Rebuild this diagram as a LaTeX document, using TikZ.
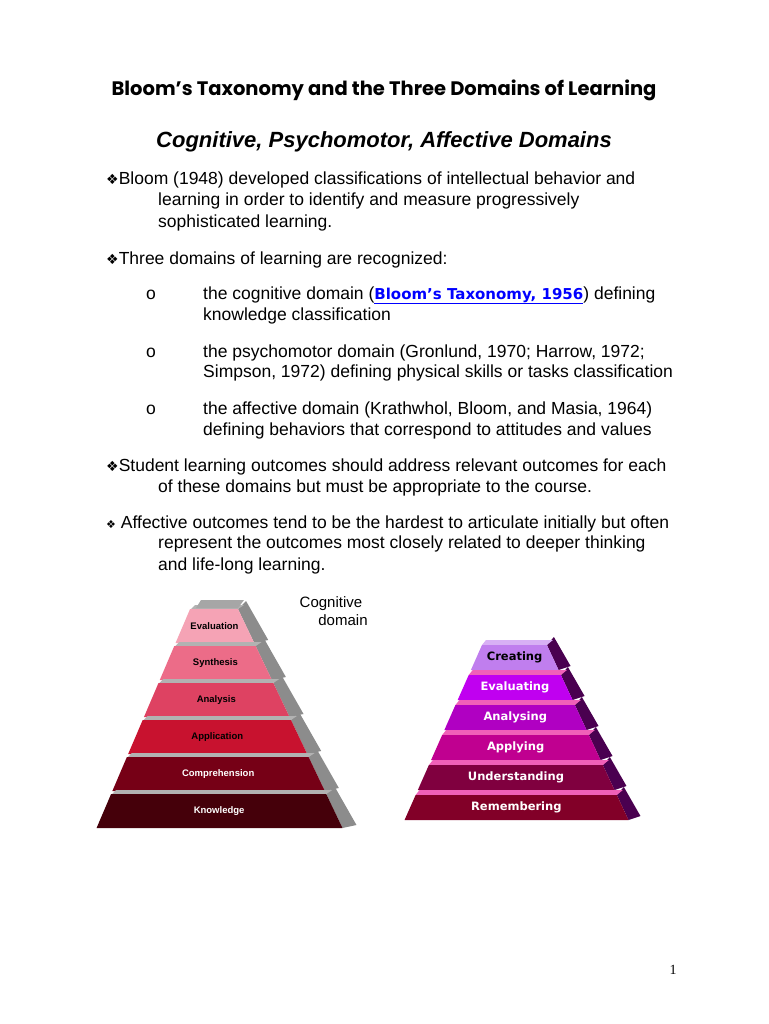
\documentclass[tikz,border=0pt]{standalone}
\usepackage{fontspec}
\setmainfont{Liberation Sans}
\newfontfamily\titlefont{Poppins}
\newfontfamily\djv{DejaVu Sans}
\newfontfamily\serifnum{Liberation Serif}
\newcommand{\bul}{{\djv\fontsize{14}{16}\selectfont ❖}}
\begin{document}
\begin{tikzpicture}[x=1pt,y=-1pt,
  body/.style={anchor=base west,inner sep=0pt,font=\fontsize{17.5}{20}\selectfont},
  lbl/.style={inner sep=0pt,font=\fontsize{9.5}{11}\selectfont\bfseries},
  rlbl/.style={inner sep=0pt,font=\djv\fontsize{11.5}{13}\selectfont\bfseries}]
\useasboundingbox[fill=white] (0,0) rectangle (768,1024);
\node[anchor=base,inner sep=0pt,font=\titlefont\fontsize{19.5}{22}\selectfont\bfseries] (title) at (384,96) {Bloom’s Taxonomy and the Three Domains of Learning};
\node[anchor=base,inner sep=0pt,font=\fontsize{22}{26}\selectfont\bfseries\itshape] (sub) at (384,148) {Cognitive, Psychomotor, Affective Domains};
% bullets
\node[body] (b1) at (106,185) {\bul Bloom (1948) developed classifications of intellectual behavior and};
\node[body] (b1b) at (158,206) {learning in order to identify and measure progressively};
\node[body] (b1c) at (158,227) {sophisticated learning.};
\node[body] (b2) at (106,264) {\bul Three domains of learning are recognized:};
\node[body] (o1) at (146,299) {o};
\node[body] (o1a) at (203,299) {the cognitive domain (\textcolor{blue}{\djv\fontsize{15}{17}\selectfont\bfseries\underline{Bloom’s Taxonomy, 1956}}) defining};
\node[body] (o1b) at (203,320) {knowledge classification};
\node[body] (o2) at (146,357) {o};
\node[body] (o2a) at (203,357) {the psychomotor domain (Gronlund, 1970; Harrow, 1972;};
\node[body] (o2b) at (203,377) {Simpson, 1972) defining physical skills or tasks classification};
\node[body] (o3) at (146,414) {o};
\node[body] (o3a) at (203,414) {the affective domain (Krathwhol, Bloom, and Masia, 1964)};
\node[body] (o3b) at (203,435) {defining behaviors that correspond to attitudes and values};
\node[body] (b3) at (106,471) {\bul Student learning outcomes should address relevant outcomes for each};
\node[body] (b3b) at (158,492) {of these domains but must be appropriate to the course.};
\node[body] (b4) at (106,528) {{\djv\fontsize{11}{12}\selectfont ❖} Affective outcomes tend to be the hardest to articulate initially but often};
\node[body] (b4b) at (158,548) {represent the outcomes most closely related to deeper thinking};
\node[body] (b4c) at (158,570) {and life-long learning.};
% left pyramid
\definecolor{L0}{HTML}{F5A3B5}\definecolor{L1}{HTML}{EC6C88}
\definecolor{L2}{HTML}{DE4262}\definecolor{L3}{HTML}{C8122F}
\definecolor{L4}{HTML}{760016}\definecolor{L5}{HTML}{45000A}
\foreach \i/\t/\tc in {0/Evaluation/black,1/Synthesis/black,2/Analysis/black,3/Application/black,4/Comprehension/white,5/Knowledge/white}{
  \pgfmathsetmacro\yt{609+37*\i}\pgfmathsetmacro\yb{\yt+34}
  \pgfmathsetmacro\xlt{97+(827-\yt)*0.427}\pgfmathsetmacro\xlb{97+(827-\yb)*0.427}
  \pgfmathsetmacro\xrt{342-(827-\yt)*0.477}\pgfmathsetmacro\xrb{342-(827-\yb)*0.477}
  \fill[black!45] (\xrt,\yt) -- (\xrt+8,\yt-8) -- (\xrb+14,\yb-3) -- (\xrb,\yb) -- cycle;
  \fill[black!30] (\xlt+1,\yt) -- (\xlt+5,\yt-4) -- (\xrt+6,\yt-4) -- (\xrt,\yt) -- cycle;
  \fill[L\i] (\xlt,\yt) -- (\xrt,\yt) -- (\xrb,\yb) -- (\xlb,\yb) -- cycle;
  \node[lbl,text=\tc] (cl\i) at ({(\xlt+\xrt+\xlb+\xrb)/4},{\yt+17}) {\t};
}
\fill[black!35] (196,608) -- (201,600) -- (244,600) -- (238,608) -- cycle;
\node[anchor=north,align=center,inner sep=0pt,font=\fontsize{15}{18}\selectfont] (cogd) at (337,596) {\hspace*{-12pt}Cognitive\\\hspace*{12pt}domain};
% right pyramid
\definecolor{R0}{HTML}{C07EEE}\definecolor{R1}{HTML}{C000F0}
\definecolor{R2}{HTML}{B000C2}\definecolor{R3}{HTML}{C00090}
\definecolor{R4}{HTML}{80003F}\definecolor{R5}{HTML}{820028}
\definecolor{RL}{HTML}{F060B8}\definecolor{RS}{HTML}{4A0050}
\definecolor{RL0}{HTML}{D8B0F5}
\foreach \i/\t/\tc/\lc in {0/Creating/black/RL0,1/Evaluating/white/RL,2/Analysing/white/RL,3/Applying/white/RL,4/Understanding/white/RL,5/Remembering/white/RL}{
  \pgfmathsetmacro\yt{645+30*\i}\pgfmathsetmacro\yb{\yt+25}
  \pgfmathsetmacro\xlt{405+(819-\yt)*0.4425}\pgfmathsetmacro\xlb{405+(819-\yb)*0.4425}
  \pgfmathsetmacro\xrt{628-(819-\yt)*0.466}\pgfmathsetmacro\xrb{628-(819-\yb)*0.466}
  \fill[RS] (\xrt,\yt) -- (\xrt+7,\yt-8) -- (\xrb+12,\yb-4) -- (\xrb,\yb) -- cycle;
  \fill[\lc] (\xlt,\yt) -- (\xlt+4,\yt-5) -- (\xrt+6,\yt-5) -- (\xrt,\yt) -- cycle;
  \fill[R\i] (\xlt,\yt) -- (\xrt,\yt) -- (\xrb,\yb) -- (\xlb,\yb) -- cycle;
  \node[rlbl,text=\tc] (rl\i) at ({(\xlt+\xrt+\xlb+\xrb)/4},{\yt+12}) {\t};
}
\node[anchor=base,inner sep=0pt,font=\serifnum\fontsize{14}{16}\selectfont] (pg) at (673,974) {1};
\end{tikzpicture}
\end{document}
